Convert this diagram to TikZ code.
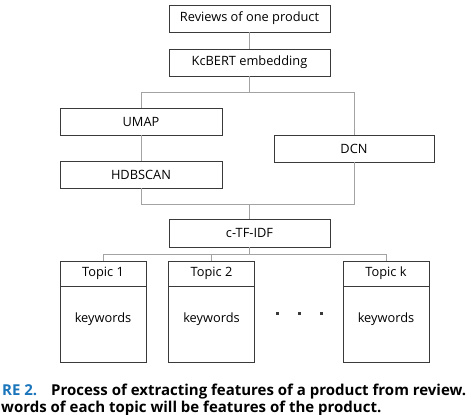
\documentclass[tikz,border=0pt]{standalone}
\usepackage{fontspec}
\setmainfont{Open Sans}
\usetikzlibrary{positioning}
\definecolor{boxline}{HTML}{3A3A3A}
\definecolor{linkline}{HTML}{A3A3A3}
\definecolor{figblue}{HTML}{1B75BB}
\tikzset{
  stepbox/.style={draw=boxline, line width=1pt, outer sep=0pt, inner sep=0pt,
    minimum width=161pt, minimum height=27pt, font=\fontsize{12.8}{14}\selectfont},
  topichead/.style={stepbox, minimum width=86pt, minimum height=25pt},
  topicbody/.style={stepbox, minimum width=86pt, minimum height=76pt,
    text height=8pt, text depth=11pt},
  link/.style={draw=linkline, line width=0.9pt},
  captext/.style={inner sep=0pt, anchor=base west, font=\bfseries\fontsize{15}{17}\selectfont}
}
\begin{document}
\begin{tikzpicture}[x=1pt, y=-1pt]
  %%%%% START %%%%%
  \useasboundingbox (0,0) rectangle (474,415);

  \node[stepbox] (reviews) at (249.5,18.5) {Reviews of one product};
  \node[stepbox] (kcbert) at (249.5,62.5) {KcBERT embedding};
  \node[stepbox, minimum width=162pt] (umap) at (141,121.5) {UMAP};
  \node[stepbox, minimum width=162pt] (hdbscan) at (141,174.5) {HDBSCAN};
  \node[stepbox, minimum width=160pt] (dcn) at (354,148.5) {DCN};
  \node[stepbox, minimum height=28pt] (ctfidf) at (249.5,233) {c-TF-IDF};

  \foreach \name/\cx/\txt in {topicA/103/Topic 1, topicB/211.5/Topic 2, topicK/386/Topic k}{
    \node[topichead] (\name) at (\cx,273.5) {\txt};
    \node[topicbody, below=0pt of \name] (\name-kw) {keywords};
  }

  % dots between topic 2 and topic k
  \foreach \dx in {276,298,320}
    \fill[boxline] (\dx,311.5) rectangle ++(3,3);

  \coordinate (split) at (249.5,92);
  \coordinate (merge) at (249.5,204);
  \coordinate (fan) at (249.5,254);

  \draw[link] (reviews) -- (kcbert);
  \draw[link] (kcbert) -- (split);
  \draw[link] (split) -| (umap);
  \draw[link] (split) -| (dcn);
  \draw[link] (umap) -- (hdbscan);
  \draw[link] (hdbscan) |- (merge);
  \draw[link] (dcn) |- (merge);
  \draw[link] (merge) -- (ctfidf);
  \draw[link] (ctfidf) -- (fan);
  \draw[link] (fan) -| (topicA);
  \draw[link] (fan) -| (topicB);
  \draw[link] (fan) -| (topicK);

  % caption, cut at the left edge
  \node[captext, text=figblue] (figno) at (2,395) {RE 2.};
  \node[captext] (capone) at (51,395) {Process of extracting features of a product from review.};
  \node[captext] (captwo) at (1,412) {words of each topic will be features of the product.};
  %%%%% END %%%%%
\end{tikzpicture}
\end{document}
